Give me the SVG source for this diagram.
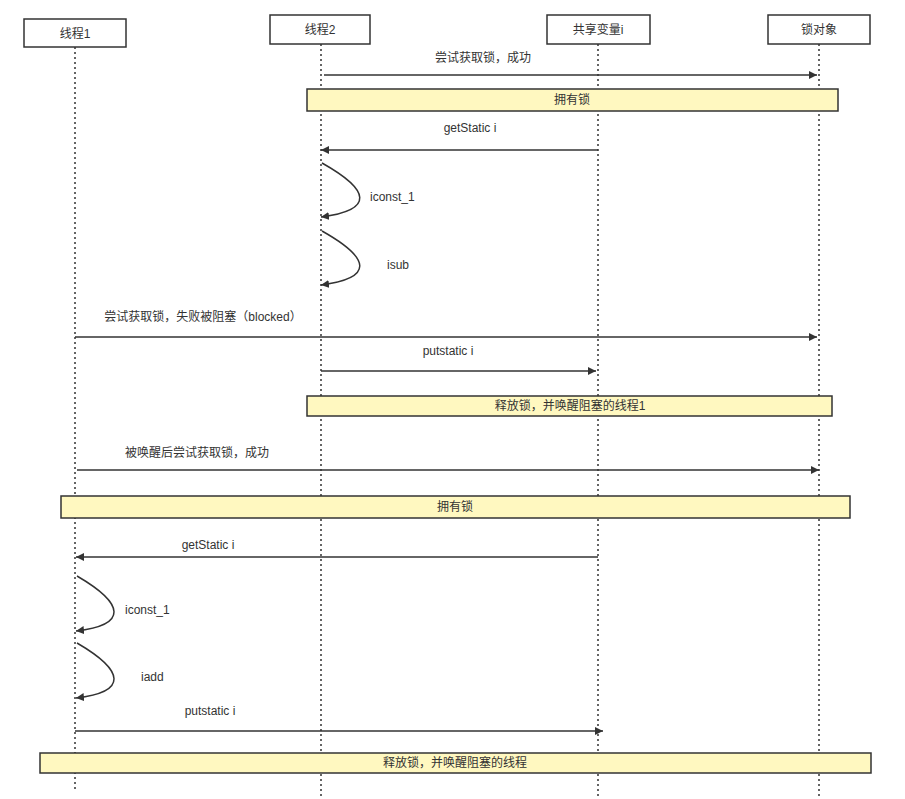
<svg xmlns="http://www.w3.org/2000/svg" width="905" height="799" viewBox="0 0 905 799">
<style>
text{font-family:"Liberation Sans","Noto Sans CJK SC",sans-serif;font-size:12px;fill:#333}
.box{fill:#fff;stroke:#333;stroke-width:1.5}
.note{fill:#fff8c0;stroke:#333;stroke-width:1.5}
.life{stroke:#333;stroke-width:1.5;stroke-dasharray:2 3;fill:none}
.msg{stroke:#333;stroke-width:1.5;fill:none;marker-end:url(#a)}
</style>
<defs><marker id="a" viewBox="0 0 10 10" refX="10" refY="5" markerWidth="8" markerHeight="8" orient="auto" markerUnits="userSpaceOnUse"><path d="M0,0L10,5L0,10z" fill="#333"/></marker></defs>
<g id="t1"><rect class="box" x="24" y="19" width="102" height="28"/><text x="75" y="38" text-anchor="middle">线程1</text><line class="life" x1="75" y1="47" x2="75" y2="790"/></g>
<g id="t2"><rect class="box" x="270" y="15" width="100" height="29"/><text x="320" y="34" text-anchor="middle">线程2</text><line class="life" x1="321" y1="44" x2="321" y2="799"/></g>
<g id="sv"><rect class="box" x="547" y="15" width="103" height="29"/><text x="598" y="34" text-anchor="middle">共享变量i</text><line class="life" x1="598" y1="44" x2="598" y2="799"/></g>
<g id="lock"><rect class="box" x="768" y="15" width="102" height="29"/><text x="819" y="34" text-anchor="middle">锁对象</text><line class="life" x1="819" y1="44" x2="819" y2="799"/></g>
<g id="notes">
<rect class="note" x="307" y="89" width="531" height="22"/><text x="572" y="104" text-anchor="middle">拥有锁</text>
<rect class="note" x="307" y="396" width="525" height="20"/><text x="570" y="410" text-anchor="middle">释放锁，并唤醒阻塞的线程1</text>
<rect class="note" x="61" y="496" width="789" height="22"/><text x="455" y="511" text-anchor="middle">拥有锁</text>
<rect class="note" x="40" y="753" width="831" height="20"/><text x="455" y="767" text-anchor="middle">释放锁，并唤醒阻塞的线程</text>
</g>
<g id="connectors">
<line class="msg" x1="324" y1="75" x2="817" y2="75"/><text x="483" y="62" text-anchor="middle">尝试获取锁，成功</text>
<line class="msg" x1="598" y1="150" x2="321" y2="150"/><text x="470" y="132" text-anchor="middle">getStatic i</text>
<path class="msg" d="M322,163 C370,190 375,210 321,217"/><text x="370" y="201">iconst_1</text>
<path class="msg" d="M322,231 C370,258 375,278 321,285"/><text x="387" y="269">isub</text>
<line class="msg" x1="75" y1="337" x2="817" y2="337"/><text x="203" y="321" text-anchor="middle">尝试获取锁，失败被阻塞（blocked）</text>
<line class="msg" x1="321" y1="371" x2="596" y2="371"/><text x="448" y="355" text-anchor="middle">putstatic i</text>
<line class="msg" x1="77" y1="470" x2="819" y2="470"/><text x="197" y="457" text-anchor="middle">被唤醒后尝试获取锁，成功</text>
<line class="msg" x1="598" y1="557" x2="76" y2="557"/><text x="208" y="549" text-anchor="middle">getStatic i</text>
<path class="msg" d="M77,576 C125,604 128,625 76,631"/><text x="125" y="614">iconst_1</text>
<path class="msg" d="M77,643 C125,671 128,692 76,698"/><text x="141" y="681">iadd</text>
<line class="msg" x1="75" y1="731" x2="603" y2="731"/><text x="210" y="715" text-anchor="middle">putstatic i</text>
</g>
</svg>
